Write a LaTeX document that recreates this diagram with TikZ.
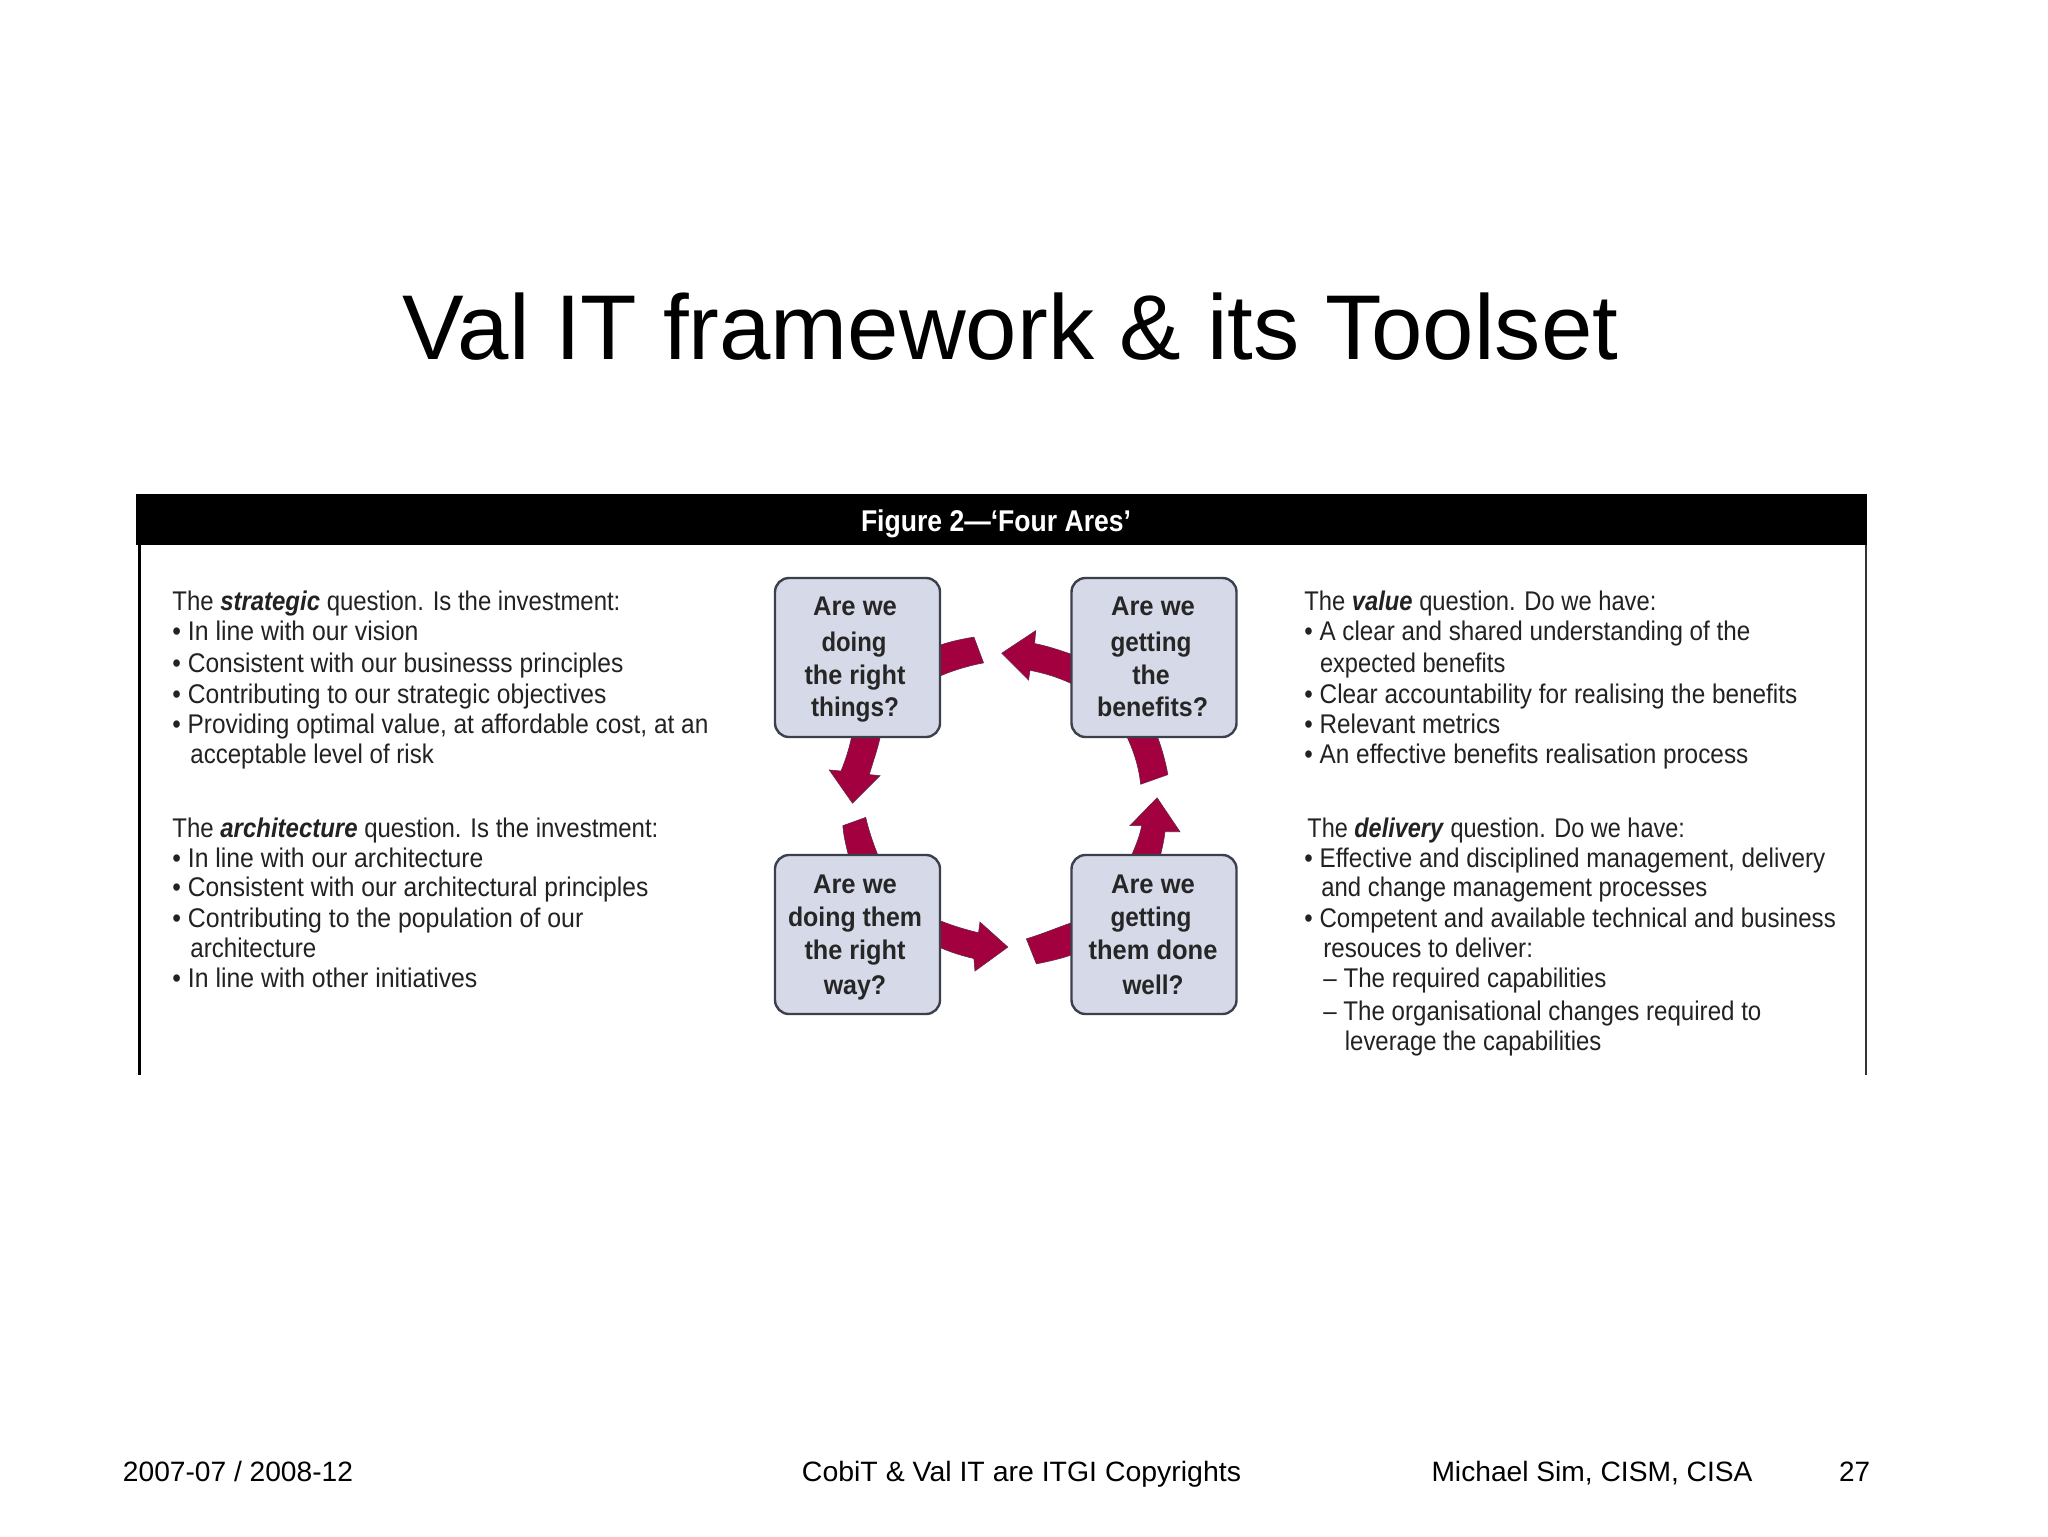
\documentclass[tikz,border=0pt]{standalone}
\usepackage{fontspec}
\usepackage{graphicx}
\setmainfont{Liberation Sans}
\definecolor{maroon}{HTML}{A3003F}
\definecolor{boxfill}{HTML}{D6DAE8}
\definecolor{boxedge}{HTML}{3C3F4C}
\definecolor{inkgrey}{HTML}{222222}
% one text line, stretched to run exactly from x1 to x2; y is the middle of its capitals
\newcommand{\fitline}[5]{%
  \pgfmathsetlengthmacro{\fitw}{(#4-#3)*0.5pt}%
  \node[textline] (#1) at (#3,#2+10) {\resizebox{\fitw}{\height}{#5}};}
\newcommand{\fitmid}[6]{%
  \pgfmathsetlengthmacro{\fitw}{#4*0.5pt}%
  \node[#5,anchor=base] (#1) at (#2,#3+10) {\resizebox{\fitw}{\height}{#6}};}
\tikzset{
  textline/.style={anchor=base west,inner sep=0pt,text=inkgrey,font=\fontsize{13.5pt}{15pt}\selectfont},
  boxline/.style={inner sep=0pt,text=black!85,font=\bfseries\fontsize{13.5pt}{15pt}\selectfont},
  question/.style={draw=boxedge,line width=1.2pt,fill=boxfill,rounded corners=7pt,minimum width=82.5pt,minimum height=79.5pt,inner sep=0pt},
  arrowpart/.style={fill=maroon,draw=boxedge!60!maroon,line width=0.3pt,line join=miter},
  slide/.style={inner sep=0pt,text=black},
  foot/.style={slide,font=\fontsize{14pt}{16pt}\selectfont},
}
\begin{document}
\begin{tikzpicture}[x=0.5pt,y=-0.5pt]
\useasboundingbox (0,0) rectangle (2048,1536);
\fill[white] (0,0) rectangle (2048,1536);

% title
\fitmid{title}{1010.5}{349}{1215}{slide,font=\fontsize{46pt}{50pt}\selectfont}{Val IT framework \& its Toolset}

% figure frame
\fill[black] (136,494) rectangle (1867,545);
\draw[black,line width=1.5pt] (139.5,545) -- (139.5,1075);
\draw[black!80,line width=1pt] (1866,545) -- (1866,1075);
\fitmid{head}{996}{521.8}{270}{inner sep=0pt,text=white,font=\bfseries\fontsize{15pt}{17pt}\selectfont}{Figure 2—‘Four Ares’}

% block arrows, in the frame of a 2.8x crop
\begin{scope}[shift={(740,480)},x=0.5pt/2.8,y=-0.5pt/2.8]
\path[arrowpart] (562,462) .. controls (590,452) and (625,445) .. (655,440) -- (682,512) .. controls (640,520) and (600,532) .. (562,548) -- cycle;
\path[arrowpart] (928,488) .. controls (890,475) and (860,465) .. (825,458) -- (828,422) -- (733,485) -- (808,560) -- (812,533) .. controls (850,540) and (890,552) .. (928,570) -- cycle;
\path[arrowpart] (312,722) .. controls (305,755) and (295,785) .. (283,815) -- (250,812) -- (315,905) -- (392,828) -- (362,825) .. controls (372,790) and (385,755) .. (392,722) -- cycle;
\path[arrowpart] (288,968) -- (352,945) .. controls (360,980) and (372,1015) .. (385,1048) -- (303,1048) .. controls (296,1020) and (290,995) .. (288,968) -- cycle;
\path[arrowpart] (562,1235) .. controls (600,1250) and (635,1260) .. (668,1268) -- (672,1238) -- (750,1308) -- (658,1375) -- (655,1340) .. controls (620,1332) and (590,1322) .. (562,1310) -- cycle;
\path[arrowpart] (928,1240) .. controls (885,1255) and (845,1272) .. (802,1285) -- (830,1355) .. controls (865,1348) and (900,1340) .. (928,1330) -- cycle;
\path[arrowpart] (1098,1048) .. controls (1110,1020) and (1120,995) .. (1125,968) -- (1092,968) -- (1168,890) -- (1232,985) -- (1190,985) .. controls (1188,1005) and (1183,1028) .. (1178,1048) -- cycle;
\path[arrowpart] (1085,722) -- (1170,722) .. controls (1182,755) and (1192,790) .. (1198,825) -- (1122,852) .. controls (1118,810) and (1105,765) .. (1085,722) -- cycle;
\end{scope}

% question boxes
\node[question] (q1) at (857.5,657.5) {};
\node[question] (q2) at (1154,657.5) {};
\node[question] (q3) at (857.5,934.5) {};
\node[question] (q4) at (1154,934.5) {};

\fitmid{q1a}{855}{605.7}{84}{boxline}{Are we}
\fitmid{q1b}{854}{641.5}{65}{boxline}{doing}
\fitmid{q1c}{855}{674}{101}{boxline}{the right}
\fitmid{q1d}{855}{706.8}{88}{boxline}{things?}

\fitmid{q2a}{1153}{605.7}{84}{boxline}{Are we}
\fitmid{q2b}{1151}{641.5}{81}{boxline}{getting}
\fitmid{q2c}{1151}{674}{37.5}{boxline}{the}
\fitmid{q2d}{1152.5}{706.8}{111}{boxline}{benefits?}

\fitmid{q3a}{855}{883.6}{84}{boxline}{Are we}
\fitmid{q3b}{855}{916.5}{134}{boxline}{doing them}
\fitmid{q3c}{855}{949.4}{101}{boxline}{the right}
\fitmid{q3d}{855}{984.6}{62.5}{boxline}{way?}

\fitmid{q4a}{1153}{883.6}{84}{boxline}{Are we}
\fitmid{q4b}{1151}{916.5}{81}{boxline}{getting}
\fitmid{q4c}{1153}{949.4}{129}{boxline}{them done}
\fitmid{q4d}{1153}{984.6}{61}{boxline}{well?}

% left column
\fitline{l1}{600.6}{172}{620}{The \textbf{\textit{strategic}} question. Is the investment:}
\fitline{l2}{630.4}{172}{418}{• In line with our vision}
\fitline{l3}{662.9}{172}{623}{• Consistent with our businesss principles}
\fitline{l4}{693.2}{172}{606}{• Contributing to our strategic objectives}
\fitline{l5}{723}{172}{708}{• Providing optimal value, at affordable cost, at an}
\fitline{l6}{753.6}{190}{433.5}{acceptable level of risk}
\fitline{l7}{827}{172}{658}{The \textbf{\textit{architecture}} question. Is the investment:}
\fitline{l8}{857.7}{172}{483}{• In line with our architecture}
\fitline{l9}{886.8}{172}{648}{• Consistent with our architectural principles}
\fitline{l10}{917.4}{172}{583}{• Contributing to the population of our}
\fitline{l11}{947.7}{190}{316}{architecture}
\fitline{l12}{977.5}{172}{477}{• In line with other initiatives}

% right column
\fitline{r1}{600.6}{1304}{1656}{The \textbf{\textit{value}} question. Do we have:}
\fitline{r2}{630.4}{1304}{1750}{• A clear and shared understanding of the}
\fitline{r3}{662.9}{1319.6}{1505}{expected benefits}
\fitline{r4}{693.2}{1304}{1797}{• Clear accountability for realising the benefits}
\fitline{r5}{723}{1304}{1500}{• Relevant metrics}
\fitline{r6}{753.6}{1304}{1748}{• An effective benefits realisation process}
\fitline{r7}{827}{1307}{1684.5}{The \textbf{\textit{delivery}} question. Do we have:}
\fitline{r8}{857.7}{1304}{1825}{• Effective and disciplined management, delivery}
\fitline{r9}{886.8}{1321}{1707}{and change management processes}
\fitline{r10}{917.4}{1304}{1835.5}{• Competent and available technical and business}
\fitline{r11}{947.7}{1323}{1532.6}{resouces to deliver:}
\fitline{r12}{977.5}{1323}{1606}{– The required capabilities}
\fitline{r13}{1010}{1323}{1761}{– The organisational changes required to}
\fitline{r14}{1040.6}{1344.5}{1601}{leverage the capabilities}

% footer
\fitmid{f1}{238}{1471.7}{230}{foot}{2007-07 / 2008-12}
\fitmid{f2}{1021.5}{1471.7}{439}{foot}{CobiT \& Val IT are ITGI Copyrights}
\fitmid{f3}{1592}{1471.7}{321}{foot}{Michael Sim, CISM, CISA}
\fitmid{f4}{1854.5}{1471.7}{31}{foot}{27}
\end{tikzpicture}
\end{document}
